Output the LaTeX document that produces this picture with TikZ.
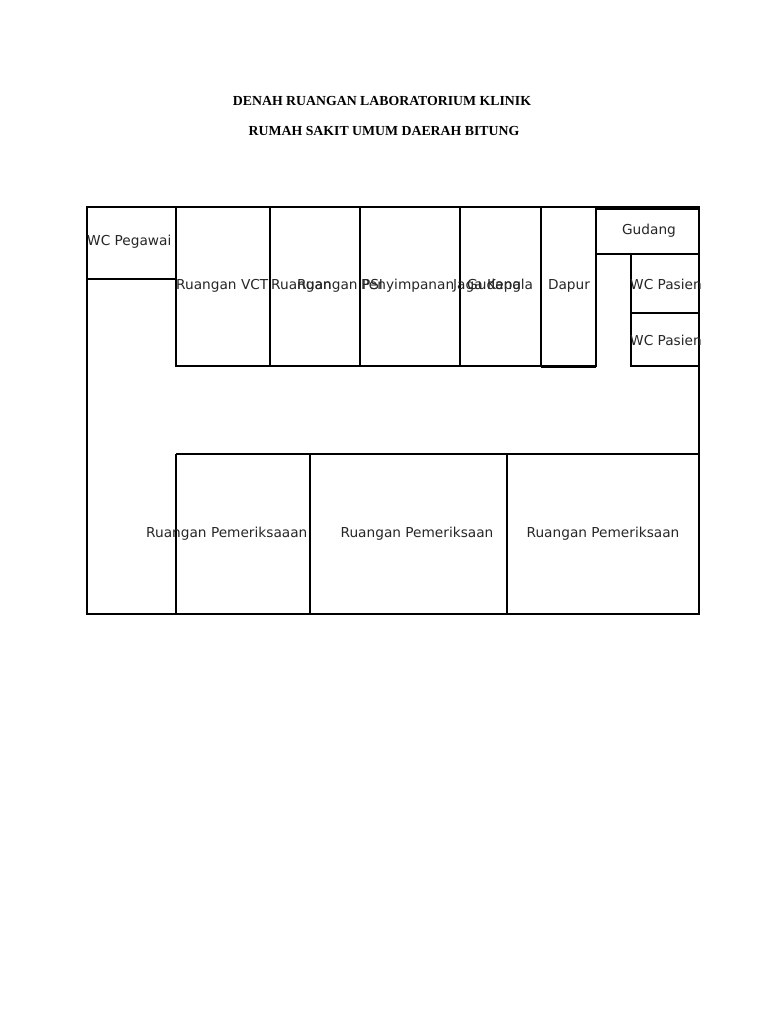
\documentclass[tikz,border=0pt]{standalone}
\usepackage{fontspec}
\setmainfont{DejaVu Sans}
\newfontfamily\titlefont{Liberation Serif}
\begin{document}
\begin{tikzpicture}[x=1pt,y=-1pt,
  wall/.style={line width=2pt},
  lbl/.style={font=\fontsize{13.7}{15}\selectfont,text=black!85,inner sep=0pt},
  lbll/.style={lbl,anchor=west},
  ttl/.style={font=\titlefont\bfseries\fontsize{13.8}{15}\selectfont,inner sep=0pt}]
\useasboundingbox (0,0) rectangle (768,1024);
\node[ttl] (t1) at (382,101) {DENAH RUANGAN LABORATORIUM KLINIK};
\node[ttl] (t2) at (384,131) {RUMAH SAKIT UMUM DAERAH BITUNG};
% outer
\draw[wall] (87,207) rectangle (699,614);
% WC pegawai
\draw[wall] (87,279) -- (176,279);
\draw[wall] (176,207) -- (176,366) -- (596,366);
\foreach \x in {270,360,460,541} \draw[wall] (\x,207) -- (\x,366);
\draw[wall] (596,207) -- (596,367);
\draw[wall] (541,367) -- (596,367);
\draw[wall] (596,209) rectangle (699,254);
\draw[wall] (631,254) -- (631,366) -- (699,366);
\draw[wall] (631,313) -- (699,313);
% bottom rooms
\draw[wall] (176,454) -- (699,454);
\foreach \x in {176,310,507} \draw[wall] (\x,454) -- (\x,614);
% labels
\node[lbll] (l1) at (87,242) {WC Pegawai};
\node[lbll] (l2) at (176,286) {Ruangan VCT};
\node[lbll] (l3) at (271,286) {Ruangan};
\node[lbll] (l4) at (297,286) {Ruangan PSI};
\node[lbll] (l5) at (361,286) {Penyimpanan};
\node[lbll] (l6) at (453,286) {Jaga Kepala};
\node[lbll] (l7) at (467,286) {Gudang};
\node[lbl] (l8) at (569,286) {Dapur};
\node[lbl] (l9) at (649,231) {Gudang};
\node[lbll] (l10) at (630,284) {WC Pasien};
\node[lbll] (l11) at (630,340) {WC Pasien};
\node[lbll] (l12) at (146,534) {Ruangan Pemeriksaaan};
\node[lbl] (l13) at (417,534) {Ruangan Pemeriksaan};
\node[lbl] (l14) at (603,534) {Ruangan Pemeriksaan};
\end{tikzpicture}
\end{document}
